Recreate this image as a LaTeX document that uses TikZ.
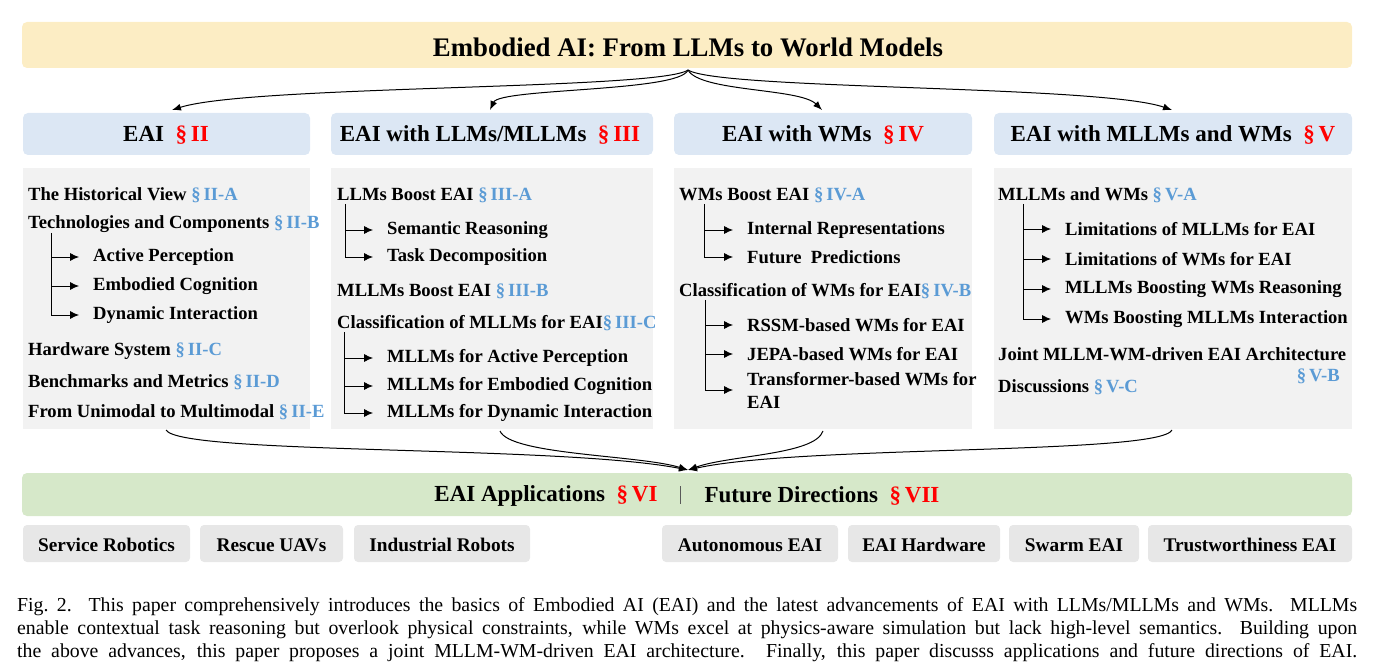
\documentclass[tikz,border=0pt]{standalone}
\usepackage{fontspec}
\setmainfont{Liberation Serif}
\usetikzlibrary{arrows.meta}
\definecolor{ttl}{HTML}{FCEDC4}
\definecolor{hdr}{HTML}{DCE7F4}
\definecolor{pnl}{HTML}{F2F2F2}
\definecolor{grn}{HTML}{D6E8C9}
\definecolor{btn}{HTML}{E7E7E7}
\definecolor{lnk}{HTML}{5B9BD5}
\definecolor{sred}{HTML}{FF0000}
\newcommand{\sref}[1]{\textcolor{lnk}{\S\,#1}}
\newcommand{\rref}[1]{\textcolor{sred}{\S\,#1}}
\begin{document}
\begin{tikzpicture}[x=1pt,y=-1pt,
  box/.style={rounded corners=5pt,draw=none},
  it/.style={anchor=west,inner sep=0pt,font=\fontsize{18.6}{21}\selectfont\bfseries},
  hd/.style={font=\fontsize{23}{26}\selectfont\bfseries,inner sep=0pt},
  bt/.style={font=\fontsize{19.3}{21}\selectfont\bfseries,inner sep=0pt},
  arr/.style={-{Latex[length=9pt,width=8pt]},line width=0.8pt},
  carr/.style={-{Latex[length=9pt,width=7pt]},line width=1pt}]
\useasboundingbox (0,0) rectangle (1376,668);
% title
\fill[ttl,box] (22,22) rectangle (1352,68);
\node[font=\fontsize{26.8}{30}\selectfont\bfseries] (title) at (688,47) {Embodied AI: From LLMs to World Models};
% headers
\fill[hdr,box] (23,113) rectangle (310,155);
\fill[hdr,box] (331,113) rectangle (653,155);
\fill[hdr,box] (674,113) rectangle (972,155);
\fill[hdr,box] (994,113) rectangle (1352,155);
\node[hd] (h1) at (166,135) {EAI \ \rref{II}};
\node[hd] (h2) at (490,135) {EAI with LLMs/MLLMs \ \rref{III}};
\node[hd] (h3) at (823,135) {EAI with WMs \ \rref{IV}};
\node[hd] (h4) at (1173,135) {EAI with MLLMs and WMs \ \rref{V}};
\coordinate (ts) at (688,70);
\coordinate (t1) at (172,110);
\coordinate (t2) at (490,110);
\coordinate (t3) at (822,110);
\coordinate (t4) at (1172,110);
\draw[carr] (ts) .. controls (660,90) and (250,85) .. (t1);
\draw[carr] (ts) .. controls (680,92) and (500,88) .. (t2);
\draw[carr] (ts) .. controls (700,92) and (800,88) .. (t3);
\draw[carr] (ts) .. controls (720,90) and (1100,85) .. (t4);
% panels
\fill[pnl] (23,168) rectangle (310,429);
\fill[pnl] (331,168) rectangle (653,429);
\fill[pnl] (674,168) rectangle (972,429);
\fill[pnl] (994,168) rectangle (1352,429);
% col1
\node[it] (a1) at (28,195) {The Historical View \sref{II-A}};
\node[it] (a2) at (28,224) {Technologies and Components \sref{II-B}};
\node[it] (a21) at (93,257) {Active Perception};
\node[it] (a22) at (93,286) {Embodied Cognition};
\node[it] (a23) at (93,315) {Dynamic Interaction};
\node[it] (a3) at (28,351) {Hardware System \sref{II-C}};
\node[it] (a4) at (28,382) {Benchmarks and Metrics \sref{II-D}};
\node[it] (a5) at (28,412) {From Unimodal to Multimodal \sref{II-E}};
\coordinate (va) at (51,233);
\draw[line width=0.8pt] (va) -- (51,315);
\foreach \n in {a21,a22,a23}{\draw[arr] (va |- \n.west) -- ([xshift=-14pt]\n.west);}
% col2
\node[it] (b1) at (337,195) {LLMs Boost EAI \sref{III-A}};
\node[it] (b11) at (387,230) {Semantic Reasoning};
\node[it] (b12) at (387,257) {Task Decomposition};
\node[it] (b2) at (337,291) {MLLMs Boost EAI \sref{III-B}};
\node[it] (b3) at (337,323) {Classification of MLLMs for EAI\sref{III-C}};
\node[it] (b31) at (387,358) {MLLMs for Active Perception};
\node[it] (b32) at (387,386) {MLLMs for Embodied Cognition};
\node[it] (b33) at (387,413) {MLLMs for Dynamic Interaction};
\coordinate (vb) at (345,204);
\draw[line width=0.8pt] (vb) -- (345,257);
\foreach \n in {b11,b12}{\draw[arr] (vb |- \n.west) -- ([xshift=-14pt]\n.west);}
\coordinate (vc) at (344,332);
\draw[line width=0.8pt] (vc) -- (344,413);
\foreach \n in {b31,b32,b33}{\draw[arr] (vc |- \n.west) -- ([xshift=-14pt]\n.west);}
% col3
\node[it] (c1) at (679,195) {WMs Boost EAI \sref{IV-A}};
\node[it] (c11) at (747,230) {Internal Representations};
\node[it] (c12) at (747,257) {Future\ \ Predictions};
\node[it] (c2) at (679,291) {Classification of WMs for EAI\sref{IV-B}};
\node[it] (c21) at (747,325) {RSSM-based WMs for EAI};
\node[it] (c22) at (747,354) {JEPA-based WMs for EAI};
\node[it,align=left] (c23) at (747,390) {Transformer-based WMs for\\[2pt]EAI};
\coordinate (vd) at (704,204);
\draw[line width=0.8pt] (vd) -- (704,257);
\foreach \n in {c11,c12}{\draw[arr] (vd |- \n.west) -- ([xshift=-14pt]\n.west);}
\coordinate (ve) at (705,300);
\draw[line width=0.8pt] (ve) -- (705,390);
\foreach \n in {c21,c22,c23}{\draw[arr] (ve |- \n.west) -- ([xshift=-14pt]\n.west);}
% col4
\node[it] (d1) at (998,195) {MLLMs and WMs \sref{V-A}};
\node[it] (d11) at (1065,229) {Limitations of MLLMs for EAI};
\node[it] (d12) at (1065,259) {Limitations of WMs for EAI};
\node[it] (d13) at (1065,289) {MLLMs Boosting WMs Reasoning};
\node[it] (d14) at (1065,319) {WMs Boosting MLLMs Interaction};
\node[it] (d2) at (998,354) {Joint MLLM-WM-driven EAI Architecture};
\node[it,anchor=east] (d2r) at (1340,376) {\sref{V-B}};
\node[it] (d3) at (998,387) {Discussions \sref{V-C}};
\coordinate (vf) at (1023,204);
\draw[line width=0.8pt] (vf) -- (1023,319);
\foreach \n in {d11,d12,d13,d14}{\draw[arr] (vf |- \n.west) -- ([xshift=-14pt]\n.west);}
% green banner
\fill[grn,box] (22,473) rectangle (1352,516);
\node[hd] (g1) at (546,496) {EAI Applications \ \rref{VI}};
\node[hd] (g2) at (822,496) {Future Directions \ \rref{VII}};
\coordinate (gs1) at (680,486);
\draw[line width=0.9pt,gray!70!black] (gs1) -- (680,504);
\coordinate (gt) at (688,470);
\coordinate (p1) at (166,430);
\coordinate (p2) at (500,431);
\coordinate (p3) at (823,431);
\coordinate (p4) at (1172,430);
\draw[carr] (p1) .. controls (180,455) and (560,445) .. (gt);
\draw[carr] (p2) .. controls (510,455) and (640,455) .. (gt);
\draw[carr] (p3) .. controls (815,455) and (730,455) .. (gt);
\draw[carr] (p4) .. controls (1160,455) and (800,445) .. (gt);
% buttons
\foreach \x/\y/\t/\nm in {23/190/Service Robotics/s1,200/343/Rescue UAVs/s2,354/530/Industrial Robots/s3,662/838/Autonomous EAI/s4,848/1000/EAI Hardware/s5,1009/1139/Swarm EAI/s6,1148/1352/Trustworthiness EAI/s7}{
  \fill[btn,rounded corners=4pt] (\x,525) rectangle (\y,562);
  \node[bt] (\nm) at ({(\x+\y)/2},545) {\t};
}
% caption
\node[anchor=north west,inner sep=0pt,text width=1340pt,align=justify,font=\fontsize{19.8}{23}\selectfont] (cap) at (17,597)
{\parfillskip=0pt Fig.~2.\ \ This paper comprehensively introduces the basics of Embodied AI (EAI) and the latest advancements of EAI with LLMs/MLLMs and WMs. MLLMs\linebreak enable contextual task reasoning but overlook physical constraints, while WMs excel at physics-aware simulation but lack high-level semantics. Building upon\linebreak the above advances, this paper proposes a joint MLLM-WM-driven EAI architecture. Finally, this paper discusss applications and future directions of EAI.\par};
\end{tikzpicture}
\end{document}
